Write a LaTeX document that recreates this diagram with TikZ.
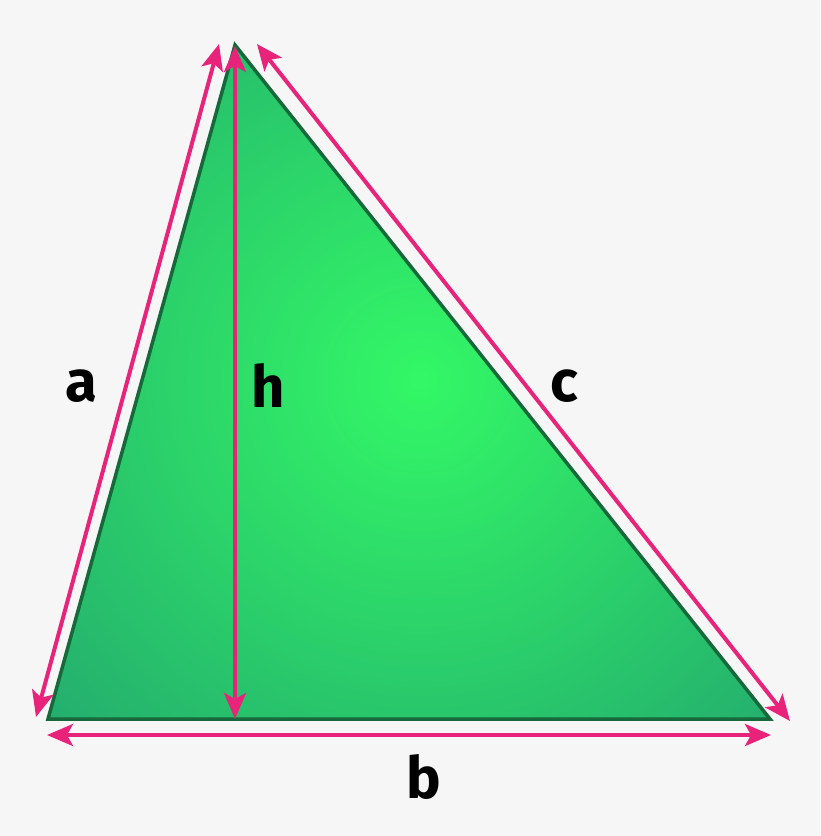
\documentclass[tikz,border=0pt]{standalone}
\usepackage{fontspec}
\setmainfont{Fira Sans}
\usetikzlibrary{arrows.meta}
\definecolor{bg}{HTML}{F6F6F6}
\definecolor{pink}{HTML}{E8247A}
\definecolor{edge}{HTML}{17683A}
\definecolor{gin}{HTML}{33F866}
\definecolor{gout}{HTML}{24AE6E}
\tikzset{
  dim/.style={draw=pink, line width=4pt, {Stealth[length=26pt,width=22pt,inset=6pt]}-{Stealth[length=26pt,width=22pt,inset=6pt]}},
  lbl/.style={font=\bfseries\fontsize{58}{60}\selectfont, text=black, inner sep=0pt}
}
\begin{document}
\begin{tikzpicture}[x=1pt,y=-1pt]
\fill[bg] (0,0) rectangle (820,836);
\useasboundingbox (0,0) rectangle (820,836);
\coordinate (A) at (235,45);
\coordinate (B) at (48,719);
\coordinate (C) at (770,719);
\fill[gout] (A) -- (B) -- (C) -- cycle;
\begin{scope}
\clip (A) -- (B) -- (C) -- cycle;
\shade[inner color=gin, outer color=gout] (420,380) circle (500);
\end{scope}
\draw[edge, line width=3.5pt, line join=miter] (A) -- (B) -- (C) -- cycle;
% dimension endpoints
\coordinate (a1) at (219,44);
\coordinate (a2) at (36,717);
\coordinate (h1) at (235,46);
\coordinate (h2) at (235,719);
\coordinate (c1) at (257,44);
\coordinate (c2) at (790,721);
\coordinate (b1) at (47,735);
\coordinate (b2) at (771,735);
\draw[dim] (a1) -- (a2);
\draw[dim] (h1) -- (h2);
\draw[dim] (c1) -- (c2);
\draw[dim] (b1) -- (b2);
\node[lbl] (la) at (81,386) {a};
\node[lbl] (lh) at (268,386) {h};
\node[lbl] (lc) at (564,386) {c};
\node[lbl] (lb) at (424,777) {b};
\end{tikzpicture}
\end{document}
